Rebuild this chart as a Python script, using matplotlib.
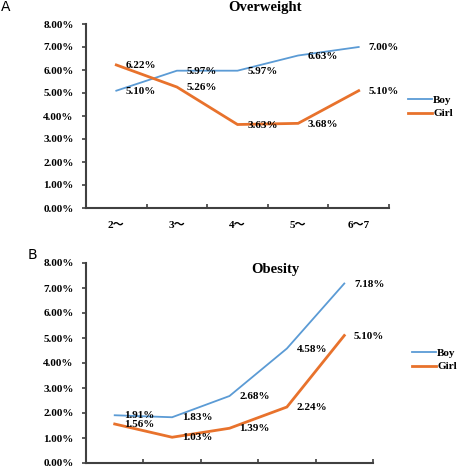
import numpy as np
import matplotlib
matplotlib.use('Agg')
import matplotlib.pyplot as plt
from matplotlib.ticker import FixedLocator, PercentFormatter

plt.rcParams['font.family'] = ['Liberation Serif', 'Noto Sans CJK SC']
plt.rcParams['font.weight'] = 'bold'

ages = ['2～', '3～', '4～', '5～', '6～7']
overweight_boy = [5.10, 5.97, 5.97, 6.63, 7.00]
overweight_girl = [6.22, 5.26, 3.63, 3.68, 5.10]
obesity_boy = [1.91, 1.83, 2.68, 4.58, 7.18]
obesity_girl = [1.56, 1.03, 1.39, 2.24, 5.10]

BLUE = '#5B9BD5'
ORANGE = '#E8722C'
AXC = '#404040'

fig = plt.figure(figsize=(4.74, 4.74), dpi=100)


def panel(rect, boy, girl, title, title_xy, letter, letter_xy, legend_xy, show_x=True):
    ax = fig.add_axes(rect)
    x = np.arange(len(ages))
    ax.plot(x, boy, color=BLUE, lw=1.3, label='Boy', solid_joinstyle='miter')
    ax.plot(x, girl, color=ORANGE, lw=2.0, label='Girl', solid_joinstyle='miter')
    for xs, ys in ((x, boy), (x, girl)):
        for xi, yi in zip(xs, ys):
            ax.annotate('%.2f%%' % yi, (xi, yi), xytext=(7, -0.5), textcoords='offset points',
                        ha='left', va='center', fontsize=8, fontweight='bold', color='black')
    ax.set_xlim(-0.5, 4.5)
    ax.set_ylim(0, 8)
    ax.yaxis.set_major_locator(FixedLocator(np.arange(0, 9)))
    ax.yaxis.set_major_formatter(PercentFormatter(100, decimals=2))
    ax.set_xticks(x)
    if show_x:
        ax.set_xticklabels(ages)
    else:
        ax.set_xticklabels([])
    ax.xaxis.set_minor_locator(FixedLocator(np.arange(0.5, 5, 1)))
    ax.tick_params(axis='x', which='major', length=0, pad=9, labelsize=8)
    ax.tick_params(axis='x', which='minor', direction='in', length=3, width=1.2, color=AXC)
    ax.tick_params(axis='y', direction='out', length=3, width=1.2, color=AXC, labelsize=8, pad=6)
    for lab in ax.get_xticklabels() + ax.get_yticklabels():
        lab.set_fontweight('bold')
    for s in ('top', 'right'):
        ax.spines[s].set_visible(False)
    for s in ('left', 'bottom'):
        ax.spines[s].set_color(AXC)
        ax.spines[s].set_linewidth(1.5)
    fig.text(title_xy[0] / 474, 1 - title_xy[1] / 474, title, ha='center', va='center',
             fontsize=10.5, fontweight='bold')
    fig.text(letter_xy[0] / 474, 1 - letter_xy[1] / 474, letter, ha='left', va='center',
             fontsize=10, family='DejaVu Sans', fontweight='normal')
    ax.legend(loc='center left', bbox_to_anchor=(legend_xy[0] / 474, 1 - legend_xy[1] / 474),
              bbox_transform=fig.transFigure, frameon=False, fontsize=8,
              handlelength=2.2, handletextpad=0.1, labelspacing=0.3, borderpad=0)
    return ax


panel([86 / 474, 1 - 208 / 474, 303 / 474, 184 / 474], overweight_boy, overweight_girl,
      'Overweight', (265, 7), 'A', (1, 7), (402, 107))
panel([86 / 474, 1 - 463 / 474, 287 / 474, 200 / 474], obesity_boy, obesity_girl,
      'Obesity', (275, 270), 'B', (28, 255), (406, 360), show_x=False)

fig.savefig('out.png', dpi=100)
